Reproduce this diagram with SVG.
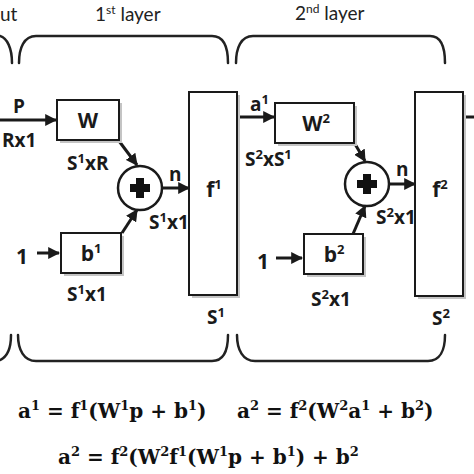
<svg xmlns="http://www.w3.org/2000/svg" width="474" height="474" viewBox="0 0 474 474">
<style>
.box{fill:#fff;stroke:#1a1a1a;stroke-width:2}
.shadow{fill:#c4c4c4}
.lbl{font-family:"Open Sans","Liberation Sans",sans-serif;font-weight:bold;font-size:19px;fill:#1a1a1a}
.big{font-size:21px}
.sup{font-size:13px}
.ttl{font-family:"Lato","Liberation Sans",sans-serif;font-size:19px;fill:#222}
.brace{fill:none;stroke:#222;stroke-width:2.5;stroke-linecap:round}
.eq{font-family:"DejaVu Serif","Liberation Serif",serif;font-weight:bold;font-size:20px;fill:#111}
.esup{font-size:13px}
.wire{stroke:#1a1a1a;stroke-width:3;fill:none}
</style>
<defs>
<marker id="ah" viewBox="0 0 10 10" refX="9" refY="5" markerWidth="4" markerHeight="4" orient="auto" markerUnits="strokeWidth">
<path d="M0,0 L10,5 L0,10 z" fill="#1a1a1a"/>
</marker>
</defs>
<rect width="474" height="474" fill="#fff"/>

<g id="titles">
<text class="ttl" x="0" y="21">ut</text>
<text class="ttl" x="95" y="21">1<tspan font-size="12" dy="-7">st</tspan><tspan dy="7"> layer</tspan></text>
<text class="ttl" x="295" y="20">2<tspan font-size="12" dy="-7">nd</tspan><tspan dy="7"> layer</tspan></text>
</g>

<g id="braces">
<path class="brace" d="M12,63 C12,48 7,38 0,36"/>
<path class="brace" d="M19,63 C19,48 24,36 36,36 L212,36 C224,36 228,48 228,63"/>
<path class="brace" d="M236,63 C236,48 241,36 253,36 L430,36 C441,36 445,48 445,63"/>
<path class="brace" d="M11,335 C11,348 7,357 0,360"/>
<path class="brace" d="M18,335 C18,350 24,361 36,361 L212,361 C224,361 228,350 228,335"/>
<path class="brace" d="M237,335 C237,350 243,361 255,361 L428,361 C440,361 445,350 445,335"/>
</g>

<g id="connectors">
<line class="wire" x1="0" y1="120" x2="56" y2="120" marker-end="url(#ah)"/>
<line class="wire" x1="119" y1="141" x2="137" y2="165" marker-end="url(#ah)"/>
<line class="wire" x1="37" y1="253" x2="59" y2="253" marker-end="url(#ah)"/>
<line class="wire" x1="122" y1="233" x2="137" y2="210" marker-end="url(#ah)"/>
<line class="wire" x1="162" y1="188" x2="189" y2="188" marker-end="url(#ah)"/>
<line class="wire" x1="237" y1="117" x2="274" y2="117" marker-end="url(#ah)"/>
<line class="wire" x1="355" y1="144" x2="365" y2="161" marker-end="url(#ah)"/>
<line class="wire" x1="276" y1="258" x2="302" y2="258" marker-end="url(#ah)"/>
<line class="wire" x1="353" y1="234" x2="365" y2="206" marker-end="url(#ah)"/>
<line class="wire" x1="389" y1="184" x2="415" y2="184" marker-end="url(#ah)"/>
<line class="wire" x1="463" y1="117" x2="474" y2="117"/>
</g>

<g id="input">
<text class="lbl" x="13" y="113">P</text>
<text class="lbl" x="2" y="147">Rx1</text>
</g>

<g id="W1">
<rect class="shadow" x="60" y="103" width="62" height="40"/>
<rect class="box" x="57" y="100" width="62" height="40"/>
<text class="lbl big" x="88" y="128" text-anchor="middle">W</text>
<text class="lbl" x="67" y="170">S<tspan class="sup" dy="-7">1</tspan><tspan dy="7">xR</tspan></text>
</g>

<g id="b1">
<rect class="shadow" x="64" y="236" width="60" height="40"/>
<rect class="box" x="61" y="233" width="60" height="40"/>
<text class="lbl big" x="91" y="261" text-anchor="middle">b<tspan class="sup" dy="-8">1</tspan></text>
<text class="lbl big" x="16" y="264">1</text>
<text class="lbl" x="67" y="301">S<tspan class="sup" dy="-7">1</tspan><tspan dy="7">x1</tspan></text>
</g>

<g id="sum1">
<circle cx="140" cy="188" r="22" fill="#fff" stroke="#1a1a1a" stroke-width="2.5"/>
<path d="M136,178 h8 v6 h6 v8 h-6 v6 h-8 v-6 h-6 v-8 h6 z" fill="#111"/>
<text class="lbl" x="169" y="181">n</text>
<text class="lbl" x="149" y="229">S<tspan class="sup" dy="-7">1</tspan><tspan dy="7">x1</tspan></text>
</g>

<g id="f1">
<rect class="shadow" x="192" y="95" width="48" height="203"/>
<rect class="box" x="189" y="92" width="48" height="203" stroke-width="2.5"/>
<text class="lbl big" x="214" y="197" text-anchor="middle">f<tspan class="sup" dy="-8">1</tspan></text>
<text class="lbl" x="207" y="324">S<tspan class="sup" dy="-7">1</tspan></text>
</g>

<g id="W2">
<text class="lbl" x="250" y="111">a<tspan class="sup" dy="-7">1</tspan></text>
<rect class="shadow" x="278" y="106" width="79" height="40"/>
<rect class="box" x="275" y="103" width="79" height="40"/>
<text class="lbl big" x="316" y="131" text-anchor="middle">W<tspan class="sup" dy="-8">2</tspan></text>
<text class="lbl" x="245" y="166">S<tspan class="sup" dy="-7">2</tspan><tspan dy="7">xS</tspan><tspan class="sup" dy="-7">1</tspan></text>
</g>

<g id="b2">
<rect class="shadow" x="307" y="237" width="59" height="40"/>
<rect class="box" x="304" y="234" width="59" height="40"/>
<text class="lbl big" x="334" y="262" text-anchor="middle">b<tspan class="sup" dy="-8">2</tspan></text>
<text class="lbl big" x="257" y="269">1</text>
<text class="lbl" x="311" y="306">S<tspan class="sup" dy="-7">2</tspan><tspan dy="7">x1</tspan></text>
</g>

<g id="sum2">
<circle cx="367" cy="184" r="22" fill="#fff" stroke="#1a1a1a" stroke-width="2.5"/>
<path d="M363,174 h8 v6 h6 v8 h-6 v6 h-8 v-6 h-6 v-8 h6 z" fill="#111"/>
<text class="lbl" x="396" y="176">n</text>
<text class="lbl" x="376" y="224">S<tspan class="sup" dy="-7">2</tspan><tspan dy="7">x1</tspan></text>
</g>

<g id="f2">
<rect class="shadow" x="418" y="95" width="48" height="204"/>
<rect class="box" x="415" y="92" width="48" height="204" stroke-width="2.5"/>
<text class="lbl big" x="440" y="197" text-anchor="middle">f<tspan class="sup" dy="-8">2</tspan></text>
<text class="lbl" x="432" y="325">S<tspan class="sup" dy="-7">2</tspan></text>
</g>

<g id="equations">
<text class="eq" x="18" y="418">a<tspan class="esup" dy="-8">1</tspan><tspan dy="8"> = f</tspan><tspan class="esup" dy="-8">1</tspan><tspan dy="8">(W</tspan><tspan class="esup" dy="-8">1</tspan><tspan dy="8">p + b</tspan><tspan class="esup" dy="-8">1</tspan><tspan dy="8">)</tspan></text>
<text class="eq" x="237" y="418">a<tspan class="esup" dy="-8">2</tspan><tspan dy="8"> = f</tspan><tspan class="esup" dy="-8">2</tspan><tspan dy="8">(W</tspan><tspan class="esup" dy="-8">2</tspan><tspan dy="8">a</tspan><tspan class="esup" dy="-8">1</tspan><tspan dy="8"> + b</tspan><tspan class="esup" dy="-8">2</tspan><tspan dy="8">)</tspan></text>
<text class="eq" x="58" y="464">a<tspan class="esup" dy="-8">2</tspan><tspan dy="8"> = f</tspan><tspan class="esup" dy="-8">2</tspan><tspan dy="8">(W</tspan><tspan class="esup" dy="-8">2</tspan><tspan dy="8">f</tspan><tspan class="esup" dy="-8">1</tspan><tspan dy="8">(W</tspan><tspan class="esup" dy="-8">1</tspan><tspan dy="8">p + b</tspan><tspan class="esup" dy="-8">1</tspan><tspan dy="8">) + b</tspan><tspan class="esup" dy="-8">2</tspan></text>
</g>
</svg>
